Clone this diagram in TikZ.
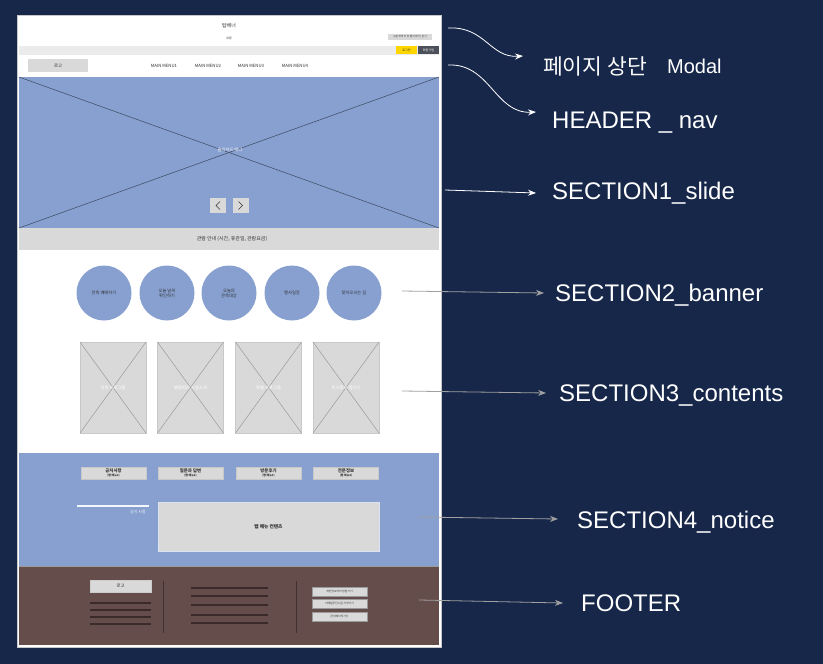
\documentclass[tikz,border=0pt]{standalone}
\usepackage{fontspec}
\setmainfont{Liberation Sans}
\newfontfamily\kr{Noto Sans CJK KR}
\usetikzlibrary{arrows.meta}
\definecolor{bg}{HTML}{16274A}
\definecolor{wblue}{HTML}{87A0D0}
\definecolor{wgray}{HTML}{D9D9D9}
\definecolor{wbrown}{HTML}{654D4B}
\definecolor{fline}{HTML}{3A2A2A}
\definecolor{framegray}{HTML}{C8C8C8}
\definecolor{crossgray}{HTML}{9A9A9A}
\definecolor{arrowgray}{HTML}{A0A0A0}
\definecolor{darkbtn}{HTML}{4B505A}
\definecolor{ybtn}{HTML}{FFD600}
\definecolor{txt}{HTML}{333333}
\tikzset{
  blk/.style={rectangle, inner sep=0pt, outer sep=0pt},
  tiny/.style={font=\kr\fontsize{4.3}{5.2}\selectfont, text=txt, align=center},
  small/.style={font=\kr\fontsize{5}{6}\selectfont, text=txt, align=center},
  circ/.style={circle, fill=wblue, minimum size=55pt, inner sep=0pt, tiny},
  card/.style={blk, fill=wgray, draw=framegray, line width=0.5pt, minimum width=66pt, minimum height=91pt},
  tab/.style={blk, fill=wgray, draw=framegray, line width=0.4pt, minimum width=65pt, minimum height=12pt},
  fbtn/.style={blk, fill=wgray, draw=crossgray, line width=0.4pt, minimum width=55pt, minimum height=9pt, font=\kr\fontsize{2.8}{3}\selectfont, text=txt},
  cross/.style={draw=crossgray, line width=0.5pt},
  slidecross/.style={draw=black!55!wblue, line width=0.5pt},
  fl/.style={draw=fline, line width=1.2pt},
  fdiv/.style={draw=fline!80!wbrown, line width=0.7pt},
  lab/.style={inner sep=0pt, anchor=base west, text=white, font=\fontsize{24}{28}\selectfont},
  wlink/.style={draw=white, line width=0.8pt, -{Stealth[length=8pt,width=6pt]}},
  glink/.style={draw=arrowgray, line width=0.8pt, -{Stealth[length=8pt,width=6pt]}},
}
\begin{document}
\begin{tikzpicture}[x=1pt,y=-1pt]
\useasboundingbox (0,0) rectangle (823,664);
\fill[bg] (0,0) rectangle (823,664);
% frame
\node[blk, fill=white, draw=framegray, line width=1pt, minimum width=424pt, minimum height=632pt, anchor=north west] (frame) at (17,15) {};
% top modal
\node[small] (toptitle) at (229,26) {탑배너};
\node[font=\kr\fontsize{3}{4}\selectfont, text=txt] (topsub) at (229,38) {내용};
\node[blk, fill=wgray, minimum width=44pt, minimum height=6pt, font=\kr\fontsize{2.6}{3}\selectfont, text=txt] (close) at (410,37) {오늘 하루 이 창 열지 않기 | 닫기};
% gray bar
\node[blk, fill=black!8, minimum width=420pt, minimum height=9pt, anchor=north west] (topbar) at (19,45.5) {};
\node[blk, fill=ybtn, minimum width=21pt, minimum height=8pt, font=\kr\fontsize{3}{4}\selectfont, text=txt] (login) at (406.5,50) {로그인};
\node[blk, fill=darkbtn, minimum width=21pt, minimum height=8pt, font=\kr\fontsize{3}{4}\selectfont, text=white] (join) at (428.5,50) {회원가입};
% header
\node[blk, fill=wgray, minimum width=60pt, minimum height=13pt, tiny] (logo) at (58,65.5) {로고};
\node[tiny] (m1) at (164,66) {MAIN MENU1};
\node[tiny] (m2) at (208,66) {MAIN MENU2};
\node[tiny] (m3) at (251,66) {MAIN MENU3};
\node[tiny] (m4) at (295,66) {MAIN MENU4};
% slide
\node[blk, fill=wblue, minimum width=420pt, minimum height=151pt, anchor=north west] (slide) at (19,77) {};
\draw[slidecross] (slide.north west) -- (slide.south east);
\draw[slidecross] (slide.north east) -- (slide.south west);
\node[tiny, text=white] (slidetxt) at (230,150) {슬라이드 배너};
\node[blk, fill=wgray, minimum width=16pt, minimum height=15pt] (prev) at (218,205.5) {};
\node[blk, fill=wgray, minimum width=16pt, minimum height=15pt] (next) at (240.5,205.5) {};
\draw[txt, line width=0.6pt] ([xshift=2pt,yshift=4pt]prev.center) -- ([xshift=-2pt]prev.center) -- ([xshift=2pt,yshift=-4pt]prev.center);
\draw[txt, line width=0.6pt] ([xshift=-2pt,yshift=4pt]next.center) -- ([xshift=2pt]next.center) -- ([xshift=-2pt,yshift=-4pt]next.center);
% info bar
\node[blk, fill=wgray, minimum width=420pt, minimum height=22pt, anchor=north west] (info) at (19,228) {};
\node[small] (infotxt) at (232,239) {관람 안내 (시간, 휴관일, 관람요금)};
% section2 circles
\node[circ] (c1) at (104,293) {관측 예매하기};
\node[circ] (c2) at (167,293) {오늘 날씨\\확인하기};
\node[circ] (c3) at (229,293) {오늘의\\관측대상};
\node[circ] (c4) at (292,293) {행사일정};
\node[circ] (c5) at (354,293) {찾아오시는 길};
% section3 cards
\foreach \n/\x/\t in {k1/113/관측 프로그램, k2/190.5/별을따라 시설소개, k3/268.5/특별 프로그램, k4/346/미스트로 갤러리}{
  \node[card] (\n) at (\x,387.5) {};
  \draw[cross] (\n.north west) -- (\n.south east);
  \draw[cross] (\n.north east) -- (\n.south west);
  \node[tiny, text=white] at (\n.center) {\t};
}
% section4
\node[blk, fill=wblue, minimum width=420pt, minimum height=113pt, anchor=north west] (notice) at (19,453) {};
\node[tab] (t1) at (113.5,473) {};
\node[tab] (t2) at (190.5,473) {};
\node[tab] (t3) at (268.5,473) {};
\node[tab] (t4) at (346,473) {};
\foreach \n/\a/\b in {t1/공지사항/탭 메뉴1, t2/질문과 답변/탭 메뉴2, t3/방문후기/탭 메뉴3, t4/전문정보/탭 메뉴4}{
  \node[inner sep=0pt, align=center, text=txt, font=\kr\bfseries\fontsize{4.4}{4.6}\selectfont] at (\n.center) {\a\\[-0.6pt]{\fontsize{2.8}{3}\selectfont(\b)}};
}
\coordinate (nl1) at (77,506);
\coordinate (nl2) at (149,506);
\draw[white!90!wblue, line width=1.2pt] (nl1) -- (nl2);
\node[anchor=east, inner sep=0pt, font=\kr\fontsize{4}{5}\selectfont, text=white!85!wblue] (ntitle) at (146,512) {공지 사항};
\node[blk, fill=wgray, draw=white!70!wblue, line width=0.4pt, minimum width=221pt, minimum height=49pt, font=\kr\bfseries\fontsize{4.7}{5}\selectfont, text=txt] (tabc) at (268.5,526.5) {탭 메뉴 컨텐츠};
% footer
\node[blk, fill=wbrown, minimum width=420pt, minimum height=79pt, anchor=north west] (footer) at (19,566) {};
\draw[crossgray, line width=0.6pt] (footer.north west) -- (footer.north east);
\node[blk, fill=wgray, draw=white!80!black, line width=0.4pt, minimum width=61pt, minimum height=12pt, tiny] (flogo) at (120.5,586) {로고};
\foreach \y in {603,610,617,624}{\draw[fl] (90,\y) -- (151,\y);}
\draw[fdiv] (163,581) -- (163,633);
\foreach \y in {588,596,605,615,623}{\draw[fl] (191,\y) -- (268,\y);}
\draw[fdiv] (296,581) -- (296,633);
\node[fbtn] (b1) at (339.5,591.5) {개인정보처리 방침가기};
\node[fbtn] (b2) at (339.5,603.5) {이메일무단수집 거부가기};
\node[fbtn] (b3) at (339.5,616.5) {관리페이지가기};
% labels
\node[inner sep=0pt, anchor=base west, text=white, font=\kr\fontsize{21.5}{24}\selectfont] (L1) at (543,74) {페이지 상단};
\node[inner sep=0pt, anchor=base west, text=white, font=\fontsize{20}{24}\selectfont] (L1b) at (667,73.5) {Modal};
\node[lab] (L2) at (552,128.5) {HEADER \_ nav};
\node[lab] (L3) at (552,199.5) {SECTION1\_slide};
\node[lab] (L4) at (555,301.5) {SECTION2\_banner};
\node[lab] (L5) at (559,401.5) {SECTION3\_contents};
\node[lab] (L6) at (577,528.5) {SECTION4\_notice};
\node[lab] (L7) at (581,611.5) {FOOTER};
% arrows
\coordinate (s1) at (448,28);   \coordinate (e1) at (523,56);
\coordinate (s2) at (448,65);   \coordinate (e2) at (536,112);
\coordinate (s3) at (445,190);  \coordinate (e3) at (536,193);
\coordinate (s4) at (402,291);  \coordinate (e4) at (544,293);
\coordinate (s5) at (402,391);  \coordinate (e5) at (546,393);
\coordinate (s6) at (418,517);  \coordinate (e6) at (558,519);
\coordinate (s7) at (419,600);  \coordinate (e7) at (563,603);
\draw[wlink] (s1) .. controls (485,26) and (490,58) .. (e1);
\draw[wlink] (s2) .. controls (490,63) and (495,114) .. (e2);
\draw[wlink] (s3) -- (e3);
\draw[glink] (s4) -- (e4);
\draw[glink] (s5) -- (e5);
\draw[glink] (s6) -- (e6);
\draw[glink] (s7) -- (e7);
\end{tikzpicture}
\end{document}
